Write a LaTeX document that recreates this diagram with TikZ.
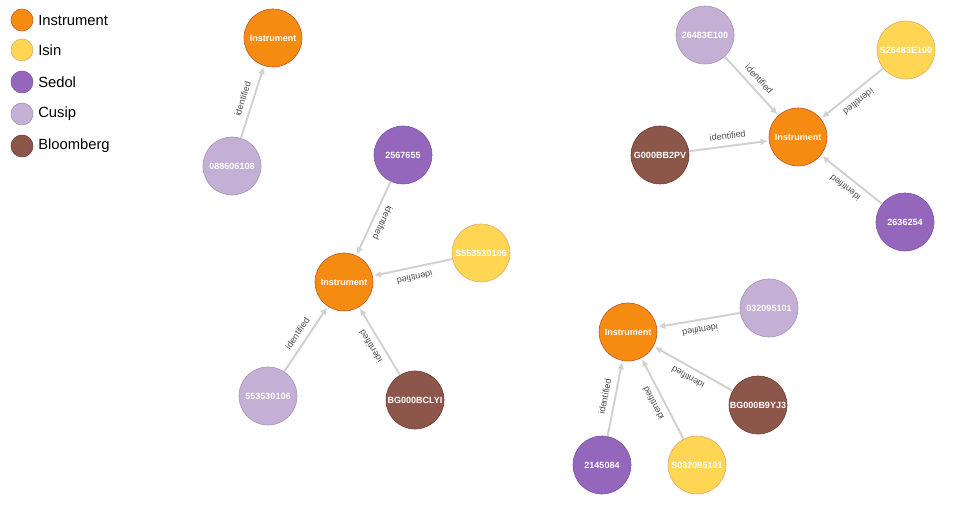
\documentclass[tikz,border=0pt]{standalone}
\usepackage{fontspec}
\setmainfont{Liberation Sans}
\usetikzlibrary{arrows.meta}
\definecolor{instfill}{HTML}{F68B12}\definecolor{instline}{HTML}{C0502A}
\definecolor{isinfill}{HTML}{FFD554}\definecolor{isinline}{HTML}{E0A870}
\definecolor{sedolfill}{HTML}{9467BD}\definecolor{sedolline}{HTML}{7D52A6}
\definecolor{cusipfill}{HTML}{C5B0D5}\definecolor{cusipline}{HTML}{A590B5}
\definecolor{bbgfill}{HTML}{8C564B}\definecolor{bbgline}{HTML}{6C3A30}
\tikzset{
  ent/.style={draw, circle, minimum size=1.45cm, inner sep=0pt, text=white,
    font=\fontsize{6.4}{7}\selectfont\bfseries},
  inst/.style={ent, fill=instfill, draw=instline},
  isin/.style={ent, fill=isinfill, draw=isinline},
  sedol/.style={ent, fill=sedolfill, draw=sedolline},
  cusip/.style={ent, fill=cusipfill, draw=cusipline},
  bbg/.style={ent, fill=bbgfill, draw=bbgline},
  key/.style={draw, circle, minimum size=0.55cm, inner sep=0pt},
  rel/.style={draw=black!18, line width=1.4pt, -{Latex[length=5pt,width=5pt]}, shorten >=1pt},
  lbl/.style={midway, above=1pt, sloped, allow upside down, text=black!70,
    font=\fontsize{6.4}{7}\selectfont}
}
\begin{document}
\begin{tikzpicture}[x=0.025cm, y=-0.025cm]
\useasboundingbox (0,0) rectangle (975,511);
% legend
\node[key, fill=instfill, draw=instline] (k1) at (22,20) {};
\node[key, fill=isinfill, draw=isinline] (k2) at (22,50) {};
\node[key, fill=sedolfill, draw=sedolline] (k3) at (22,82) {};
\node[key, fill=cusipfill, draw=cusipline] (k4) at (22,114) {};
\node[key, fill=bbgfill, draw=bbgline] (k5) at (22,146) {};
\node[anchor=west, font=\fontsize{10.5}{12}\selectfont] at (k1.east) {Instrument};
\node[anchor=west, font=\fontsize{10.5}{12}\selectfont] at (k2.east) {Isin};
\node[anchor=west, font=\fontsize{10.5}{12}\selectfont] at (k3.east) {Sedol};
\node[anchor=west, font=\fontsize{10.5}{12}\selectfont] at (k4.east) {Cusip};
\node[anchor=west, font=\fontsize{10.5}{12}\selectfont] at (k5.east) {Bloomberg};

% group 1
\node[inst] (i1) at (273,38) {Instrument};
\node[cusip] (c1) at (232,166) {088606108};
\path[rel] (c1) -- node[lbl] {identified} (i1);

% group 2
\node[inst] (i2) at (344,282) {Instrument};
\node[sedol] (s2) at (403,155) {2567655};
\node[isin] (n2) at (481,253) {S553530106};
\node[cusip] (c2) at (268,396) {553530106};
\node[bbg] (b2) at (415,400) {BG000BCLYI};
\path[rel] (s2) -- node[lbl] {identified} (i2);
\path[rel] (n2) -- node[lbl] {identified} (i2);
\path[rel] (c2) -- node[lbl] {identified} (i2);
\path[rel] (b2) -- node[lbl] {identified} (i2);

% group 3
\node[inst] (i3) at (798,137) {Instrument};
\node[cusip] (c3) at (705,35) {26483E100};
\node[isin] (n3) at (906,50) {S26483E100};
\node[bbg] (b3) at (660,155) {G000BB2PV};
\node[sedol] (s3) at (905,222) {2636254};
\path[rel] (c3) -- node[lbl] {identified} (i3);
\path[rel] (n3) -- node[lbl] {identified} (i3);
\path[rel] (b3) -- node[lbl] {identified} (i3);
\path[rel] (s3) -- node[lbl] {identified} (i3);

% group 4
\node[inst] (i4) at (628,332) {Instrument};
\node[cusip] (c4) at (769,308) {032095101};
\node[bbg] (b4) at (758,405) {BG000B9YJ3};
\node[sedol] (s4) at (602,465) {2145084};
\node[isin] (n4) at (697,465) {S032095101};
\path[rel] (c4) -- node[lbl] {identified} (i4);
\path[rel] (b4) -- node[lbl] {identified} (i4);
\path[rel] (s4) -- node[lbl] {identified} (i4);
\path[rel] (n4) -- node[lbl] {identified} (i4);
\end{tikzpicture}
\end{document}
